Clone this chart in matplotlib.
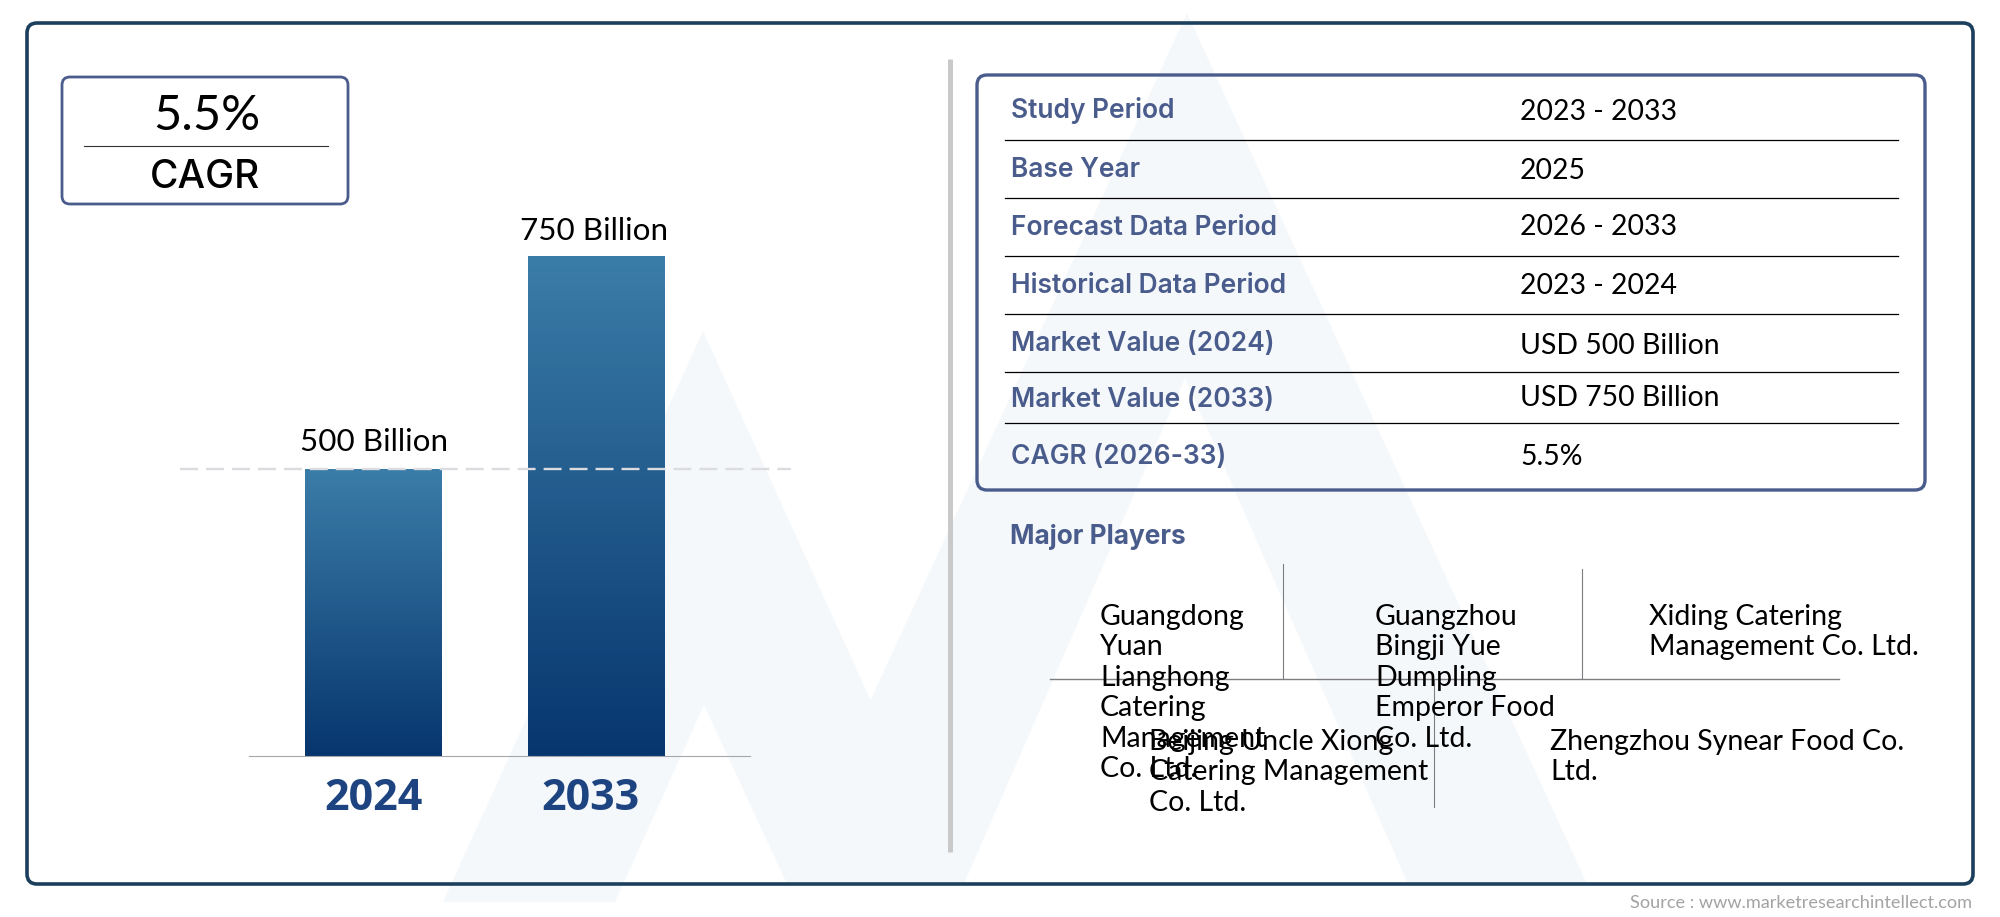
"""Market size infographic: 2024 vs 2033 bars, study table and major players."""
import matplotlib
matplotlib.use("Agg")
import matplotlib.pyplot as plt
import numpy as np
from matplotlib.colors import LinearSegmentedColormap
from matplotlib.patches import FancyBboxPatch, Polygon

WIDTH, HEIGHT = 2000, 917

NAVY = "#1b3f5c"
SLATE = "#4a5c8c"
WATERMARK = "#f5f8fb"
YEAR_BLUE = "#1d4480"
RULE_GREY = "#7d7d82"

years = ["2024", "2033"]
market_values = [500, 750]
value_labels = ["500 Billion", "750 Billion"]
axis_floor = 163  # the bars do not start at zero in the original

cagr_value = "5.5%"
cagr_label = "CAGR"

table_rows = ["Study Period", "Base Year", "Forecast Data Period", "Historical Data Period",
              "Market Value (2024)", "Market Value (2033)", "CAGR (2026-33)"]
table_values = ["2023 - 2033", "2025", "2026 - 2033", "2023 - 2024",
                "USD 500 Billion", "USD 750 Billion", "5.5%"]

players = ["Guangdong\nYuan\nLianghong\nCatering\nManagement\nCo. Ltd.",
           "Guangzhou\nBingji Yue\nDumpling\nEmperor Food\nCo. Ltd.",
           "Xiding Catering\nManagement Co. Ltd.",
           "Beijing Uncle Xiong\nCatering Management\nCo. Ltd.",
           "Zhengzhou Synear Food Co.\nLtd."]

plt.rcParams["font.family"] = ["Lato", "DejaVu Sans"]
HEAD_FONT = ["Inter", "DejaVu Sans"]

fig = plt.figure(figsize=(WIDTH / 100, HEIGHT / 100), dpi=100, facecolor="white")

# whole-figure axes in pixel coordinates for the frame, table and logo
bg = fig.add_axes([0, 0, 1, 1])
bg.set_xlim(0, WIDTH)
bg.set_ylim(HEIGHT, 0)
bg.axis("off")

# pale logo behind everything
bg.add_patch(Polygon([(703, 331), (443, 902), (615, 902), (704, 705), (788, 886), (955, 886)],
                     closed=True, fc=WATERMARK, ec="none", zorder=0))
bg.add_patch(Polygon([(1187, 13), (785, 886), (963, 886), (1185, 378), (1409, 886), (1588, 886)],
                     closed=True, fc=WATERMARK, ec="none", zorder=0))

bg.add_patch(FancyBboxPatch((27, 23), 1946, 861, boxstyle="round,pad=0,rounding_size=10",
                            fc="none", ec=NAVY, lw=2.6, zorder=1))
bg.plot([950, 950], [59, 852], color="#c9c9c9", lw=3.6, solid_capstyle="butt", zorder=1)

# CAGR badge
bg.add_patch(FancyBboxPatch((62, 77), 286, 127, boxstyle="round,pad=0,rounding_size=8",
                            fc="white", ec=SLATE, lw=2, zorder=2))
bg.plot([84, 328], [146, 146], color="#333333", lw=0.8, zorder=3)
bg.text(207, 116, cagr_value, ha="center", va="center", fontsize=35, color="black", zorder=3)
bg.text(205.5, 177, cagr_label, ha="center", va="center", fontsize=28, fontweight="medium",
        family=HEAD_FONT, color="black", zorder=3)

# table box
bg.add_patch(FancyBboxPatch((977, 75), 948, 415, boxstyle="round,pad=0,rounding_size=10",
                            fc="none", ec=SLATE, lw=2.4, zorder=2))
row_centers = [110, 170, 228, 286, 344, 400, 457]
value_centers = [112, 171, 227, 286, 346, 398, 457]
row_rules = [140, 198, 256, 314, 372, 423]
for y in row_rules:
    bg.plot([1005, 1898], [y, y], color="black", lw=0.9, zorder=2)
for y, y_val, label, value in zip(row_centers, value_centers, table_rows, table_values):
    bg.text(1011, y, label, ha="left", va="center", fontsize=19, fontweight="semibold",
            family=HEAD_FONT, color=SLATE, zorder=3)
    bg.text(1520, y_val, value, ha="left", va="center", fontsize=20.4, color="black", zorder=3)

bg.text(1010, 537, "Major Players", ha="left", va="center", fontsize=18.9, fontweight="bold",
        family=HEAD_FONT, color=SLATE, zorder=3)

# player cells, overlapping like in the original page
player_pos = [(1100, 604), (1375, 604), (1649, 604), (1149, 729), (1550, 729)]
for (x, y), name in zip(player_pos, players):
    bg.text(x, y, name, ha="left", va="top", fontsize=20.5, linespacing=1.21, color="black", zorder=3)
bg.plot([1283, 1283], [564, 678], color=RULE_GREY, lw=0.8, zorder=2)
bg.plot([1582, 1582], [569, 678], color=RULE_GREY, lw=0.8, zorder=2)
bg.plot([1050, 1839], [679, 679], color=RULE_GREY, lw=1.0, zorder=2)
bg.plot([1434, 1434], [680, 807], color=RULE_GREY, lw=0.8, zorder=2)

bg.text(1972, 903, "Source : www.marketresearchintellect.com", ha="right", va="center",
        fontsize=13.05, color="#a3a3a3", zorder=3)

# bar chart in its own axes
left, right, top, bottom = 249, 750, 256, 756
ax = fig.add_axes([left / WIDTH, 1 - bottom / HEIGHT, (right - left) / WIDTH, (bottom - top) / HEIGHT])
ax.patch.set_alpha(0)
ax.spines[["top", "right", "left"]].set_visible(False)
ax.spines["bottom"].set_color("#a6a6ad")
ax.set_yticks([])
ax.set_xticks([0, 0.973], years)
ax.tick_params(axis="x", length=0, pad=14.8)
for lab in ax.get_xticklabels():
    lab.set(fontsize=31, fontweight="bold", color=YEAR_BLUE, family=["Open Sans", "DejaVu Sans"])

fade = LinearSegmentedColormap.from_list("bar_fade", ["#3b7da9", "#07366e"])
ramp = np.linspace(0, 1, 256).reshape(-1, 1)
heights = [v - axis_floor for v in market_values]
label_shift = [(1, 27), (-2, 25)]
bars = ax.bar(range(len(years)), heights, bottom=axis_floor, width=0.61, color="#1f5a8f", linewidth=0)
for rect, label, shift in zip(bars, value_labels, label_shift):
    x0, x1 = rect.get_x(), rect.get_x() + rect.get_width()
    y0, y1 = rect.get_y(), rect.get_y() + rect.get_height()
    img = ax.imshow(ramp, cmap=fade, extent=[x0, x1, y0, y1], aspect="auto", origin="upper", zorder=2)
    img.set_clip_path(rect)
    ax.annotate(label, xy=((x0 + x1) / 2, y1), xytext=shift, textcoords="offset pixels",
                ha="center", va="center", fontsize=22.6, color="black", annotation_clip=False)

ax.plot([-0.865, 1.875], [market_values[0], market_values[0]], color="#dcdce0", lw=1.7,
        linestyle=(0, (7.6, 3.4)), clip_on=False, zorder=3)
ax.set_xlim(-0.556, 1.691)
ax.set_ylim(axis_floor, 750)

fig.savefig("out.png", dpi=100, facecolor="white")
